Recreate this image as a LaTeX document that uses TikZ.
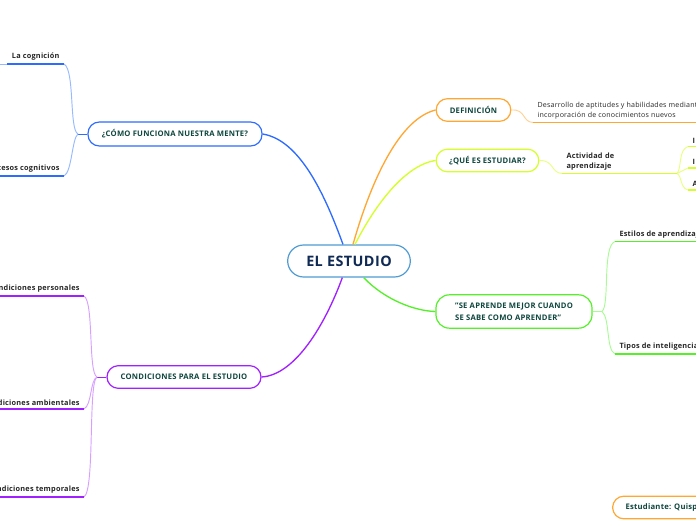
\documentclass[tikz,border=0pt]{standalone}
\usepackage{fontspec}
\setmainfont{Open Sans}[LetterSpace=3]
\definecolor{azul}{RGB}{46,107,255}
\definecolor{azulclaro}{RGB}{150,185,255}
\definecolor{naranja}{RGB}{255,167,51}
\definecolor{naranjaclaro}{RGB}{255,210,150}
\definecolor{amarillo}{RGB}{212,255,42}
\definecolor{amarilloclaro}{RGB}{232,255,130}
\definecolor{verde}{RGB}{85,240,42}
\definecolor{verdeclaro}{RGB}{170,250,150}
\definecolor{morado}{RGB}{160,32,255}
\definecolor{moradoclaro}{RGB}{215,160,255}
\definecolor{textotema}{RGB}{14,70,62}
\definecolor{textoraiz}{RGB}{15,42,85}
\definecolor{bordraiz}{RGB}{79,155,212}
\tikzset{every picture/.style={line width=0.75pt}}
\tikzset{
	tema/.style={draw,rounded corners=8.5pt,fill=white,line width=0.9pt,text=textotema,font=\bfseries\fontsize{5.75}{9}\selectfont,inner sep=0pt,minimum height=17pt},
	hoja/.style={inner xsep=3pt,inner ysep=2.1pt,text=black!85,font=\bfseries\fontsize{5.5}{7.6}\selectfont},
	rama/.style={line width=1pt},
	enlace/.style={line width=0.7pt},
	linea/.style={line width=1.1pt}
}

\begin{document}
\begin{tikzpicture}[x=0.75pt,y=0.75pt,yscale=-1,xscale=1]
	\path [use as bounding box,clip] (0,0) rectangle (696,520);

	%Central topic
	\draw (349,261) node (raiz) [tema,draw=bordraiz,rounded corners=12pt,minimum width=92pt,minimum height=24pt,text=textoraiz,font=\bfseries\fontsize{10.8}{12}\selectfont] {EL ESTUDIO};

	%Main topics
	\draw (175,134) node (mente) [tema,draw=azul,minimum width=130.5pt,minimum height=18pt] {¿CÓMO FUNCIONA NUESTRA MENTE?};
	\draw (184,377) node (condiciones) [tema,draw=morado,minimum width=115.5pt] {CONDICIONES PARA EL ESTUDIO};
	\draw (473.5,110) node (definicion) [tema,draw=naranja,minimum width=56pt] {DEFINICIÓN};
	\draw (487.5,160.5) node (estudiar) [tema,draw=amarillo,minimum width=77pt] {¿QUÉ ES ESTUDIAR?};
	\draw (514,311.5) node (aprende) [tema,draw=verde,minimum width=117pt,minimum height=25pt,align=left,rounded corners=10pt] {"SE APRENDE MEJOR CUANDO\\SE SABE COMO APRENDER"};
	\draw (612,507.5) node (estudiante) [tema,draw=naranja,anchor=west,inner xsep=9.75pt] {Estudiante: Quispe};

	%Subtopics on the left
	\draw (64,64) node (cognicion) [hoja,anchor=south east] {La cognición};
	\draw (64,176) node (procesos) [hoja,anchor=south east] {Procesos cognitivos};
	\draw (84,296) node (personales) [hoja,anchor=south east] {Condiciones personales};
	\draw (84,409) node (ambientales) [hoja,anchor=south east] {Condiciones ambientales};
	\draw (84,497) node (temporales) [hoja,anchor=south east] {Condiciones temporales};

	%Subtopics on the right
	\draw (533,122.5) node (desarrollo) [hoja,anchor=south west,align=left,font=\fontsize{5.3}{7.6}\selectfont] {Desarrollo de aptitudes y habilidades mediante la\\incorporación de conocimientos nuevos};
	\draw (562,173.5) node (actividad) [hoja,anchor=south west,align=left,text width=79.5pt] {Actividad de\\aprendizaje};
	\draw (688,146.5) node (primero) [hoja,anchor=south west] {I};
	\draw (688,168) node (segundo) [hoja,anchor=south west] {I};
	\draw (688,190) node (tercero) [hoja,anchor=south west] {A};
	\draw (615,241.5) node (estilos) [hoja,anchor=south west] {Estilos de aprendizaje};
	\draw (615,354) node (tipos) [hoja,anchor=south west] {Tipos de inteligencia};

	%Forks
	\coordinate (forkmente) at (78,134);
	\coordinate (forkcondiciones) at (97,377);
	\coordinate (forkaprende) at (602,311.5);
	\coordinate (bordecognicion) at (0,64);

	%Branches from the centre
	\draw [rama,azul] ([xshift=-4.5pt]raiz.north) .. controls (325,195) and (300,140) .. (mente.east);
	\draw [rama,naranja] ([xshift=3pt]raiz.north) .. controls (367,195) and (395,120) .. (definicion.west);
	\draw [rama,amarillo] ([xshift=4.5pt]raiz.north) .. controls (375,205) and (405,165) .. (estudiar.west);
	\draw [rama,morado] ([xshift=-5pt]raiz.south) .. controls (325,325) and (295,375) .. (condiciones.east);
	\draw [rama,verde] ([xshift=11pt]raiz.south) .. controls (385,300) and (415,311) .. (aprende.west);

	%Branches to the subtopics
	\draw [enlace,azul] (mente.west) -- (forkmente);
	\draw [enlace,azulclaro] (forkmente) .. controls (69,130) and (75,70) .. (cognicion.south east);
	\draw [enlace,azulclaro] (forkmente) .. controls (72,138) and (72,172) .. (procesos.south east);
	\draw [enlace,morado] (condiciones.west) -- (forkcondiciones);
	\draw [enlace,moradoclaro] (forkcondiciones) .. controls (88,373) and (94,302) .. (personales.south east);
	\draw [enlace,moradoclaro] (forkcondiciones) .. controls (90,380) and (92,405) .. (ambientales.south east);
	\draw [enlace,moradoclaro] (forkcondiciones) .. controls (88,382) and (95,490) .. (temporales.south east);
	\draw [enlace,verdeclaro] (aprende.east) -- (forkaprende);
	\draw [enlace,verdeclaro] (forkaprende) .. controls (610,305) and (602,246) .. (estilos.south west);
	\draw [enlace,verdeclaro] (forkaprende) .. controls (610,318) and (606,350) .. (tipos.south west);
	\draw [enlace,naranjaclaro] (definicion.east) .. controls (526,109) and (522,122) .. (desarrollo.south west);
	\draw [enlace,amarilloclaro] (estudiar.east) .. controls (554,160) and (551,173) .. (actividad.south west);
	\draw [enlace,amarilloclaro] (actividad.south east) .. controls (682,168) and (678,150) .. (primero.south west);
	\draw [enlace,amarilloclaro] (actividad.south east) -- (segundo.south west);
	\draw [enlace,amarilloclaro] (actividad.south east) .. controls (682,176) and (680,188) .. (tercero.south west);
	\draw [enlace,azulclaro] (bordecognicion) -- (cognicion.south west);

	%Lines under the subtopics
	\draw [linea,azul] (cognicion.south west) -- (cognicion.south east);
	\draw [linea,azul] (procesos.south west) -- (procesos.south east);
	\draw [linea,morado] (personales.south west) -- (personales.south east);
	\draw [linea,morado] (ambientales.south west) -- (ambientales.south east);
	\draw [linea,morado] (temporales.south west) -- (temporales.south east);
	\draw [linea,naranja] (desarrollo.south west) -- (desarrollo.south east);
	\draw [linea,amarillo] (actividad.south west) -- (actividad.south east);
	\draw [linea,amarillo] (primero.south west) -- (primero.south east);
	\draw [linea,amarillo] (segundo.south west) -- (segundo.south east);
	\draw [linea,amarillo] (tercero.south west) -- (tercero.south east);
	\draw [linea,verde] (estilos.south west) -- (estilos.south east);
	\draw [linea,verde] (tipos.south west) -- (tipos.south east);
\end{tikzpicture}
\end{document}
